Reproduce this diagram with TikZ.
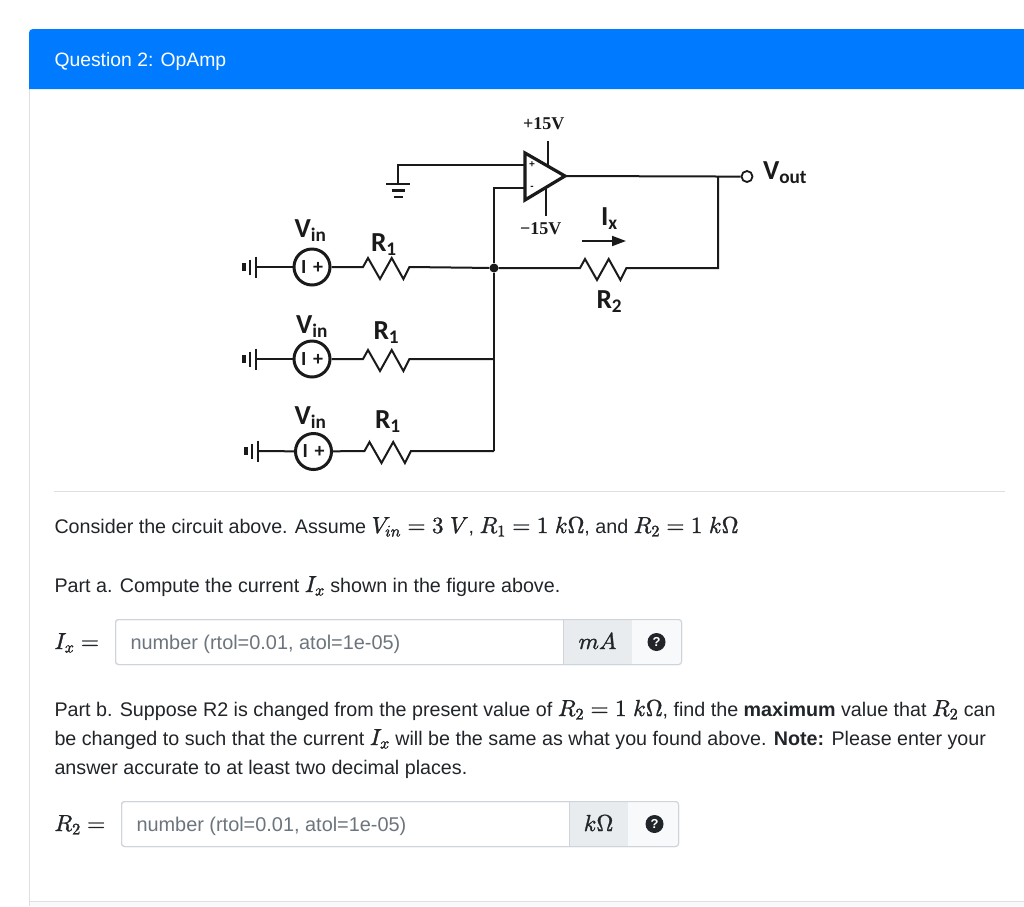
\documentclass[tikz,border=0pt]{standalone}
\usepackage{fontspec}
\setmainfont{Liberation Sans}
\newfontfamily\circfont{Carlito}[BoldFont={Carlito Bold}]
\newfontfamily\supfont{Liberation Serif}
\DeclareFontShape{OML}{cmm}{m}{it}{<->cmmi10}{\skewchar\font127}
\DeclareFontShape{OT1}{cmr}{m}{n}{<->cmr10}{}
\DeclareFontShape{OMS}{cmsy}{m}{n}{<->cmsy10}{\skewchar\font48}
\usetikzlibrary{arrows.meta}
\definecolor{bsblue}{HTML}{007BFF}
\definecolor{bodytext}{HTML}{212529}
\definecolor{holder}{HTML}{6C757D}
\definecolor{edge}{HTML}{CED4DA}
\definecolor{addon}{HTML}{E9ECEF}
\definecolor{helpbg}{HTML}{F8F9FA}
\definecolor{cardline}{HTML}{DFDFDF}
\definecolor{wirecol}{HTML}{1A1A1A}
\newcommand{\mth}[1]{{\fontsize{23.2}{26}\selectfont\special{pdf:code q 2 Tr 0.3 w 0.13 0.145 0.16 RG}$#1$\special{pdf:code Q}}}
\tikzset{
  wire/.style={draw=wirecol,line width=2pt,line join=miter},
  txt/.style={anchor=base west,inner sep=0pt,outer sep=0pt,text=bodytext,font=\fontsize{19.7}{24}\selectfont},
  ph/.style={txt,text=holder,font=\fontsize{19.9}{24}\selectfont},
  lab/.style={anchor=base west,inner sep=0pt,outer sep=0pt,text=wirecol,font=\circfont\bfseries\fontsize{27.5}{28}\selectfont},
  suplab/.style={anchor=base west,inner sep=0pt,outer sep=0pt,text=wirecol,font=\supfont\bfseries\fontsize{18}{20}\selectfont},
  src/.style={circle,draw=wirecol,line width=3pt,minimum size=36pt,inner sep=0pt,font=\circfont\bfseries\fontsize{20}{20}\selectfont,text=wirecol},
  help/.style={circle,fill=bodytext,minimum size=18pt,inner sep=0pt,text=white,font=\bfseries\fontsize{13}{14}\selectfont},
  dotnode/.style={circle,fill=wirecol,minimum size=9pt,inner sep=0pt},
  term/.style={circle,draw=wirecol,line width=1.8pt,fill=white,minimum size=11pt,inner sep=0pt},
}
\newcommand{\zigpath}{-- ++(5,-9) -- ++(12,21) -- ++(11.7,-21) -- ++(11.7,21) -- ++(6,-12)}
\newcommand{\battbars}[1]{%
  \draw[wirecol,line width=2.8pt] (#1) ++(0,-10.5) -- ++(0,21);
  \draw[wirecol,line width=2.8pt] (#1) ++(-6,-7.5) -- ++(0,15);
  \draw[wirecol,line width=3.8pt] (#1) ++(-12,-4) -- ++(0,8);}
\begin{document}
\begin{tikzpicture}[x=1pt,y=-1pt]
\useasboundingbox (0,0) rectangle (1024,906);
\fill[white] (0,0) rectangle (1024,906);
% card
\fill[helpbg] (29,902) rectangle (1024,906);
\draw[cardline,line width=1pt] (29.5,89) -- (29.5,906);
\draw[cardline,line width=1.5pt] (29,901.5) -- (1024,901.5);
\fill[bsblue] (29,89) -- (29,33) .. controls (29,30.5) and (30.5,29) .. (33,29) -- (1024,29) -- (1024,89) -- cycle;
\node[txt,text=white,font=\fontsize{19.35}{24}\selectfont] (title) at (54.5,66) {Question 2: OpAmp};
\draw[cardline,line width=0.8pt] (54,491.5) -- (1005,491.5);

% op amp
\coordinate (tA) at (525,153);
\coordinate (tB) at (525,200);
\coordinate (tC) at (565,176);
\coordinate (inP) at (525,165);
\coordinate (inN) at (525,187.5);
\draw[wirecol,line width=3.2pt,line join=miter,fill=white] (tA) -- (tB) -- (tC) -- cycle;
\node[inner sep=0pt,text=wirecol,font=\bfseries\fontsize{10}{10}\selectfont] (pp) at (532,165) {+};
\node[inner sep=0pt,text=wirecol,font=\bfseries\fontsize{10}{10}\selectfont] (pm) at (532,187.5) {-};
\coordinate (vddA) at (548,141);
\coordinate (vddB) at (548,165);
\coordinate (vssA) at (546,187);
\coordinate (vssB) at (546,216);
\draw[wire] (vddA) -- (vddB);
\draw[wire] (vssA) -- (vssB);
\node[suplab] (vp) at (523,129) {+15V};
\node[suplab] (vm) at (520,234) {−15V};

% top ground
\coordinate (g0) at (398,183.5);
\draw[wire] (inP) -- (398,165) -- (g0);
\draw[wirecol,line width=2.8pt] (386,184) -- (410,184);
\draw[wirecol,line width=2.8pt] (392,190.5) -- (404.5,190.5);
\draw[wirecol,line width=2.8pt] (394,197) -- (403,197);

% junctions and output
\node[dotnode] (jn) at (494,268) {};
\coordinate (j2) at (494,359);
\coordinate (j3) at (494,451);
\coordinate (jout) at (718,176.5);
\node[term] (vo) at (747,176.5) {};
\draw[wire] (tC) -- (jout) -- (vo);
\draw[wire] (inN) -- (494,187.5) -- (jn);
\draw[wire] (jn) -- (j2) -- (j3);
\coordinate (r2a) at (580,268);
\draw[wire] (jn) -- (r2a) \zigpath -- (718,268) -- (jout);
\coordinate (arrA) at (582,241);
\coordinate (arrB) at (626,241);
\draw[wirecol,line width=1.8pt,-{Triangle[length=14pt,width=10pt]}] (arrA) -- (arrB);
\node[lab] (ix) at (601,225) {I\textsubscript{x}};
\node[lab] (r2) at (596.5,308) {R\textsubscript{2}};
\node[lab] (vout) at (763,179) {V\textsubscript{out}};

% input branches
\coordinate (b1) at (256,267);
\node[src] (s1) at (312,267) {I\,\,+};
\coordinate (r1a) at (363,267);
\battbars{b1}
\draw[wire] (b1) -- (s1);
\draw[wire] (s1) -- (r1a) \zigpath -- (jn);
\node[lab] (v1) at (294.5,237) {V\textsubscript{in}};
\node[lab] (r11) at (371,251) {R\textsubscript{1}};

\coordinate (b2) at (256,359);
\node[src] (s2) at (312,359) {I\,\,+};
\coordinate (r1b) at (363,359);
\battbars{b2}
\draw[wire] (b2) -- (s2);
\draw[wire] (s2) -- (r1b) \zigpath -- (j2);
\node[lab] (v2) at (296,333) {V\textsubscript{in}};
\node[lab] (r12) at (373.5,339) {R\textsubscript{1}};

\coordinate (b3) at (258,451);
\node[src] (s3) at (313.5,451.5) {I\,\,+};
\coordinate (r1c) at (364.5,451);
\battbars{b3}
\draw[wire] (b3) -- (s3);
\draw[wire] (s3) -- (r1c) \zigpath -- (j3);
\node[lab] (v3) at (294.5,424) {V\textsubscript{in}};
\node[lab] (r13) at (375,428) {R\textsubscript{1}};

% text
\node[txt] (t1) at (54.5,533) {Consider the circuit above. Assume \mth{V_{in}=3\ V}, \mth{R_1=1\ k\Omega}, and \mth{R_2=1\ k\Omega}};
\node[txt] (t2) at (54.5,592) {Part a. Compute the current \mth{I_x} shown in the figure above.};
\node[txt] (t3) at (54.5,716) {Part b. Suppose R2 is changed from the present value of \mth{R_2=1\ k\Omega}, find the \textbf{maximum} value that \mth{R_2} can};
\node[txt] (t4) at (54.5,745) {be changed to such that the current \mth{I_x} will be the same as what you found above. \textbf{Note:} Please enter your};
\node[txt] (t5) at (54.5,774) {answer accurate to at least two decimal places.};

% answer box a
\node[txt] (lia) at (54.5,649) {\mth{I_x=}};
\draw[edge,line width=1pt,fill=white,rounded corners=3pt] (115.5,619.5) rectangle (681.5,664.5);
\fill[helpbg] (632,620) rectangle (681,664);
\fill[addon] (563,620) rectangle (632,664);
\draw[edge,line width=0.8pt] (563,620) -- (563,664);
\draw[edge,line width=1pt,rounded corners=3pt] (115.5,619.5) rectangle (681.5,664.5);
\node[ph] (pa) at (130.5,649) {number (rtol=0.01, atol=1e-05)};
\node[txt,anchor=base] (ua) at (597.5,649) {\mth{mA}};
\node[help] (ha) at (656.5,642) {?};

% answer box b
\node[txt] (lib) at (54.5,831) {\mth{R_2=}};
\draw[edge,line width=1pt,fill=white,rounded corners=3pt] (121.5,801.5) rectangle (678.5,846.5);
\fill[helpbg] (628,802) rectangle (678,846);
\fill[addon] (569,802) rectangle (628,846);
\draw[edge,line width=0.8pt] (569,802) -- (569,846);
\draw[edge,line width=1pt,rounded corners=3pt] (121.5,801.5) rectangle (678.5,846.5);
\node[ph] (pb) at (136.5,831) {number (rtol=0.01, atol=1e-05)};
\node[txt,anchor=base] (ub) at (598.5,831) {\mth{k\Omega}};
\node[help] (hb) at (654.5,824) {?};
\end{tikzpicture}
\end{document}
